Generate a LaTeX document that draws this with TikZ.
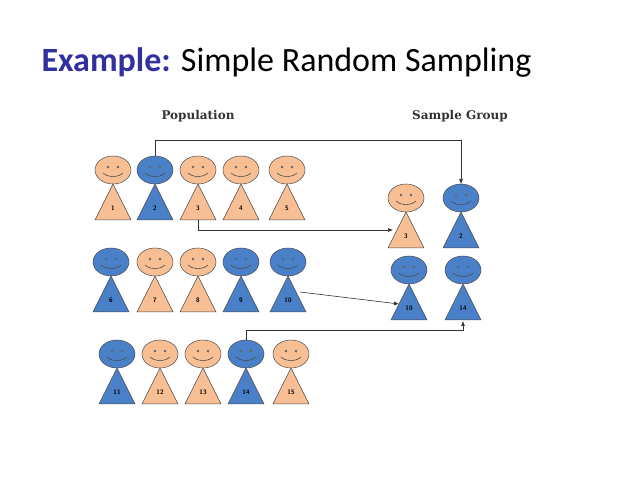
\documentclass[tikz,border=0pt]{standalone}
\usepackage{fontspec}
\setmainfont{Carlito}
\newfontfamily\hdr{DejaVu Serif}
\usetikzlibrary{arrows.meta}
\definecolor{skin}{HTML}{F8BF95}
\definecolor{pblue}{HTML}{4A80C8}
\definecolor{titleblue}{HTML}{3030A0}
\tikzset{
  link/.style={draw=black!80, line width=0.6pt, -{Latex[length=5pt,width=4pt]}},
  lbl/.style={font=\fontsize{6.5}{7}\selectfont\bfseries\sffamily, text=black},
  pic person/.pic={
    \fill[#1, draw=black!70, line width=0.5pt] (-18,50) -- (0,14) -- (18,50) -- cycle;
    \fill[#1, draw=black!70, line width=0.5pt] (0,0) ellipse [x radius=18, y radius=14];
    \fill[black!60] (-5,-3) circle (1.3) (5,-3) circle (1.3);
    \draw[black!70, line width=0.6pt] (-10,3) .. controls (-4,8) and (4,8) .. (10,3);
  }
}
\newcommand{\person}[5]{% name, x, y, color, label
  \coordinate (#1) at (#2,#3);
  \pic at (#1) {pic person=#4};
  \node[lbl] (#1l) at (#2,#3+38) {#5};
  \coordinate (#1top) at (#2,#3-14);
}
\begin{document}
\begin{tikzpicture}[x=1pt,y=-1pt]
\useasboundingbox[fill=white] (0,0) rectangle (638,478);
\node[anchor=west, font=\fontsize{34}{36}\selectfont] (title) at (38,62) {\textcolor{titleblue}{\bfseries Example:} Simple Random Sampling};
\node[font=\hdr\bfseries\fontsize{12}{14}\selectfont, text=black!80] (pop) at (198,116) {Population};
\node[font=\hdr\bfseries\fontsize{12}{14}\selectfont, text=black!80] (samp) at (460,116) {Sample Group};
% row 1
\person{p1}{113}{170}{skin}{1}
\person{p2}{155}{170}{pblue}{2}
\person{p3}{198}{170}{skin}{3}
\person{p4}{241}{170}{skin}{4}
\person{p5}{287}{170}{skin}{5}
% row 2
\person{p6}{111}{262}{pblue}{6}
\person{p7}{155}{262}{skin}{7}
\person{p8}{198}{262}{skin}{8}
\person{p9}{241}{262}{pblue}{9}
\person{p10}{288}{262}{pblue}{10}
% row 3
\person{p11}{117}{354}{pblue}{11}
\person{p12}{160}{354}{skin}{12}
\person{p13}{203}{354}{skin}{13}
\person{p14}{246}{354}{pblue}{14}
\person{p15}{291}{354}{skin}{15}
% sample
\person{s3}{406}{198}{skin}{3}
\person{s2}{461}{198}{pblue}{2}
\person{s10}{409}{270}{pblue}{10}
\person{s14}{463}{270}{pblue}{14}
\coordinate (p3b) at (198,220);
\coordinate (s3side) at (393,230);
\coordinate (p10side) at (300,292);
\coordinate (s10side) at (399,304);
\coordinate (p14t) at (246,340);
\coordinate (s14b) at (463,321);
\draw[link] (p2top) |- (155,140) -| (s2top);
\draw[link] (p3b) |- (s3side);
\draw[link] (p10side) -- (s10side);
\draw[link] (p14t) |- (463,330) -- (s14b);
\end{tikzpicture}
\end{document}
